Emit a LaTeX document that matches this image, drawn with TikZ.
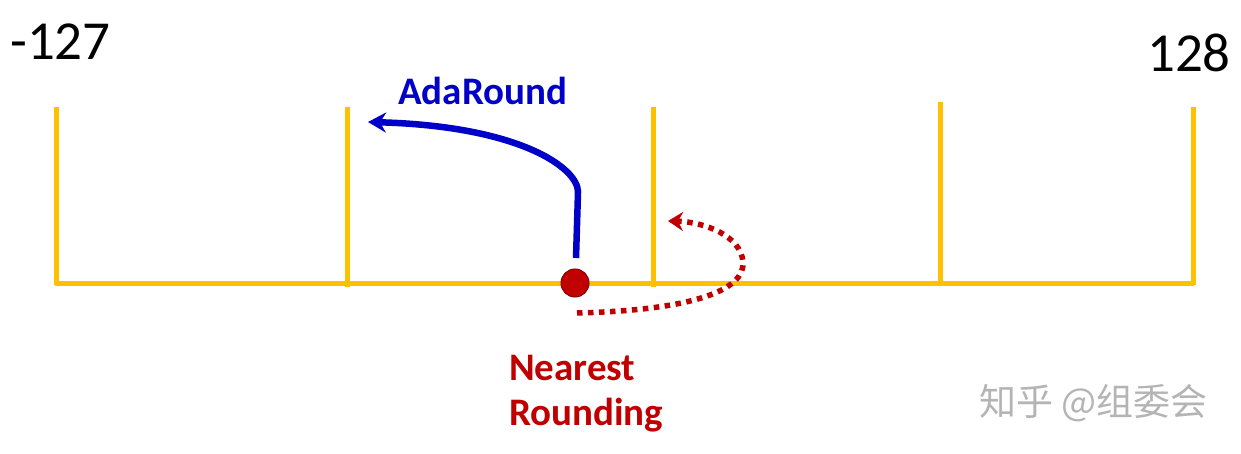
\documentclass[tikz,border=0pt]{standalone}
\usepackage{fontspec}
\setmainfont{Carlito}
\newfontfamily\cjk{Noto Sans CJK SC}
\usetikzlibrary{arrows.meta}
\definecolor{axisyellow}{HTML}{FFC000}
\definecolor{adablue}{HTML}{0000C8}
\definecolor{nearred}{HTML}{C00000}
\definecolor{wmgray}{HTML}{B4B4B4}
\tikzset{
  axis/.style={draw=axisyellow, line width=5pt},
  bound/.style={font=\fontsize{55}{62}\selectfont, text=black, inner sep=0pt},
  lbl/.style={font=\bfseries\fontsize{39}{45}\selectfont, inner sep=0pt},
}
\begin{document}
\begin{tikzpicture}[x=1pt,y=-1pt]
\useasboundingbox (0,0) rectangle (1241,454);
% axis
\coordinate (L) at (55,283);
\coordinate (R) at (1194,283);
\draw[axis] (L) -- (R);
\foreach \x/\t/\b [count=\i] in {56/107/285, 347/107/287, 653/107/287, 940/102/281, 1193/107/285}{
  \coordinate (t\i top) at (\x,\t);
  \coordinate (t\i bot) at (\x,\b);
  \draw[axis] (t\i top) -- (t\i bot);
}
% labels
\node[bound, anchor=base west] (lo) at (10,60) {-127};
\node[bound, anchor=base east] (hi) at (1231,72) {128};
\node[lbl, text=adablue, anchor=base west] (ada) at (398,105) {AdaRound};
\node[lbl, text=nearred, anchor=base west] (near1) at (509,380) {Nearest};
\node[lbl, text=nearred, anchor=base west] (near2) at (509,425) {Rounding};
% point
\node[circle, fill=nearred, draw=nearred!70!black, line width=1pt, minimum size=28pt, inner sep=0pt] (pt) at (575,283) {};
% AdaRound arrow
\coordinate (a0) at (576,258);
\coordinate (a1) at (578,192);
\coordinate (a2) at (368,122);
\draw[adablue, line width=6.5pt, -{Stealth[length=18pt, width=20pt, inset=6pt]}]
  (a0) -- (a1) .. controls (578,168) and (520,126) .. (a2);
% Nearest rounding arrow
\coordinate (n0) at (577,313);
\coordinate (n1) at (743,262);
\coordinate (n2) at (668,221);
\draw[nearred, line width=5.5pt, dash pattern=on 5.5pt off 5.5pt, -{Stealth[length=15pt, width=19pt, inset=5pt]}]
  (n0) .. controls (700,310) and (745,288) .. (n1) .. controls (741,236) and (705,222) .. (n2);
% watermark
\node[font=\cjk\fontsize{37}{42}\selectfont, text=wmgray, anchor=base west, inner sep=0pt] (wm) at (979,415) {知乎 @组委会};
\end{tikzpicture}
\end{document}
